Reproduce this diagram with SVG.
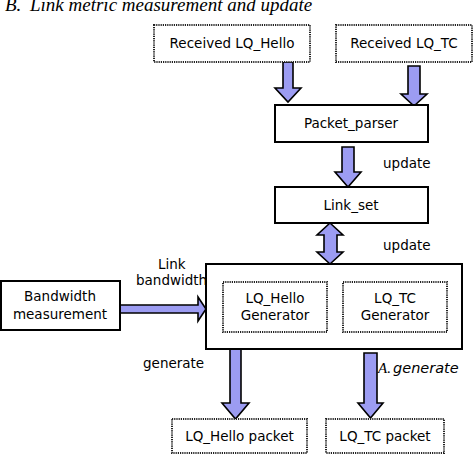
<svg xmlns="http://www.w3.org/2000/svg" width="474" height="455" viewBox="0 0 474 455">
<style>
.box{fill:#fff;stroke:#000;stroke-width:2}
.dot{fill:#fff;stroke:#222;stroke-width:2;stroke-dasharray:1.2 1}
.arr{fill:#9c9cf2;stroke:#000;stroke-width:1.6;stroke-linejoin:miter}
.t{font-family:"DejaVu Sans",Verdana,sans-serif;font-size:13.5px;fill:#000}
.c{text-anchor:middle}
.ti{font-family:"Liberation Serif","Times New Roman",serif;font-style:italic;font-size:19px;fill:#000}
</style>
<rect width="474" height="455" fill="#fff"/>
<text class="ti" y="11"><tspan x="5">B.</tspan><tspan x="30">Link metric measurement and update</tspan></text>
<g id="connectors">
<polygon class="arr" points="283,62 293,62 293,88 301,88 288,102 275,88 283,88"/>
<polygon class="arr" points="408,66 420,66 420,94 427,94 414,106 401,94 408,94"/>
<polygon class="arr" points="342,147 354,147 354,172 361,172 348,187 335,172 342,172"/>
<polygon class="arr" points="330,223 343,235 337,235 337,252 343,252 330,264 317,252 324,252 324,235 317,235"/>
<polygon class="arr" points="120,305 198,305 198,297 206,309 198,321 198,313 120,313"/>
<polygon class="arr" points="230,349 241,349 241,403 249,403 235.5,419 222,403 230,403"/>
<polygon class="arr" points="364,353 377,353 377,403 383,403 370.5,418 358,403 364,403"/>
</g>
<g id="recv-hello"><rect class="dot" x="154" y="25" width="156" height="37"/><text class="t c" x="232" y="48">Received LQ_Hello</text></g>
<g id="recv-tc"><rect class="dot" x="336" y="25" width="136" height="37"/><text class="t c" x="404" y="48">Received LQ_TC</text></g>
<g id="packet-parser"><rect class="box" x="275" y="105" width="153" height="37"/><text class="t c" x="351" y="128">Packet_parser</text></g>
<text class="t" x="383" y="168">update</text>
<g id="link-set"><rect class="box" x="275" y="187" width="153" height="36"/><text class="t c" x="351" y="210">Link_set</text></g>
<text class="t" x="383" y="250">update</text>
<text class="t" x="158" y="269">Link</text>
<text class="t" x="136" y="285">bandwidth</text>
<g id="bw"><rect class="box" x="1" y="281" width="119" height="49"/><text class="t c" x="60" y="301">Bandwidth</text><text class="t c" x="60" y="319">measurement</text></g>
<g id="gen-block"><rect class="box" x="206" y="264" width="256" height="85"/></g>
<g id="lq-hello-gen"><rect class="dot" x="223" y="282" width="104" height="50"/><text class="t c" x="275" y="303">LQ_Hello</text><text class="t c" x="275" y="320">Generator</text></g>
<g id="lq-tc-gen"><rect class="dot" x="343" y="282" width="104" height="50"/><text class="t c" x="395" y="303">LQ_TC</text><text class="t c" x="395" y="320">Generator</text></g>
<text class="t" x="143" y="368">generate</text>
<text y="373"><tspan class="ti" x="378" style="font-size:15px">A.</tspan><tspan class="t" x="393" style="font-style:italic;font-size:14.5px">generate</tspan></text>
<g id="lq-hello-pkt"><rect class="dot" x="172" y="419" width="135" height="34"/><text class="t c" x="239.5" y="441">LQ_Hello packet</text></g>
<g id="lq-tc-pkt"><rect class="dot" x="326" y="419" width="118" height="34"/><text class="t c" x="385" y="441">LQ_TC packet</text></g>
</svg>
